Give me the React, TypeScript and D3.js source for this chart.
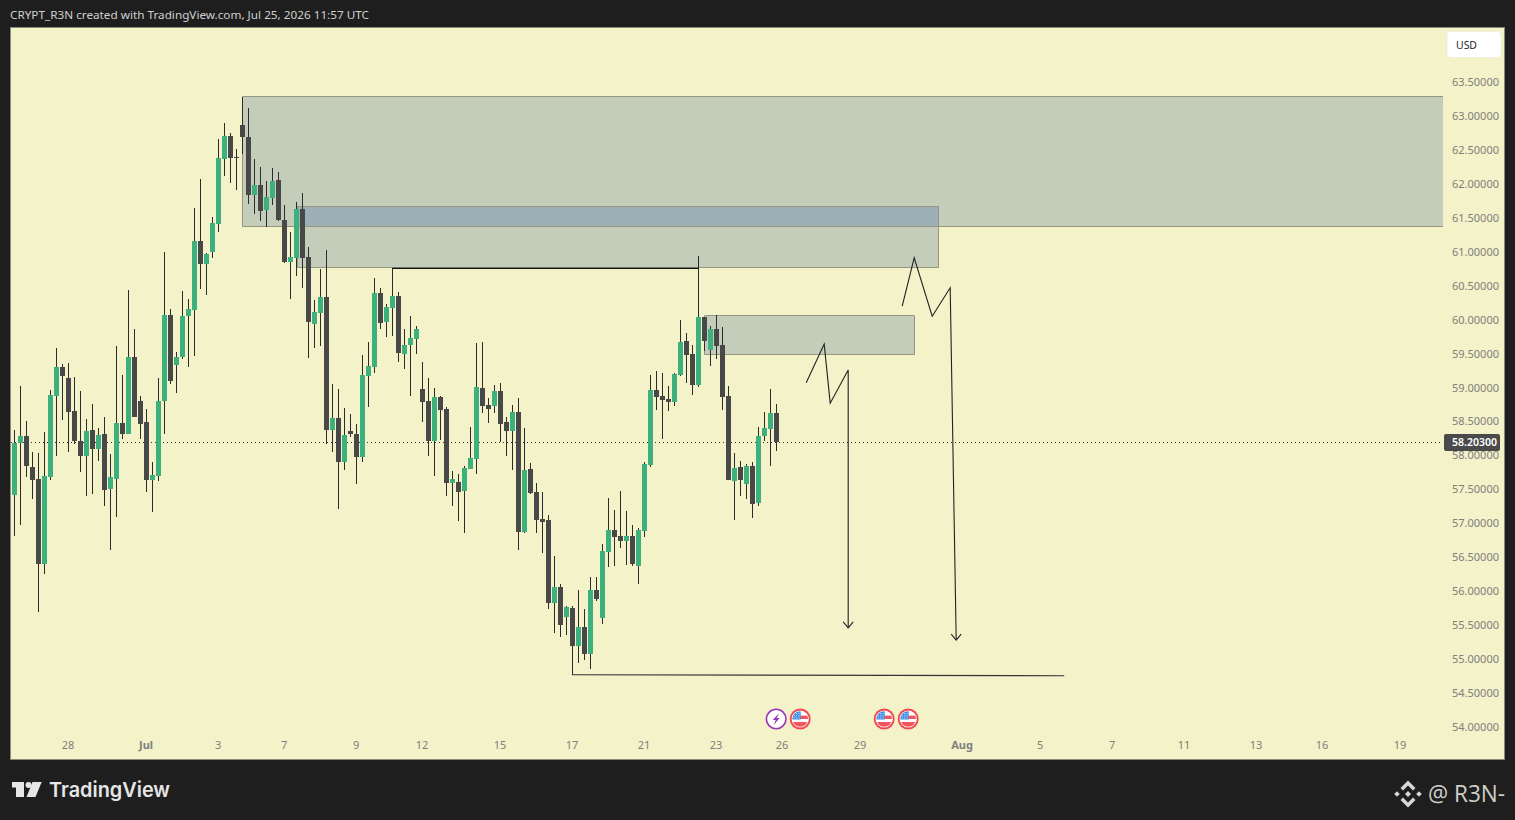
import React, { useEffect } from "react";
import * as d3 from "d3";

const highs = [
  58.38,59.02,58.51,58.05,58.04,58.35,58.97,59.58,59.35,59.36,
  59.16,58.95,58.54,58.76,58.41,58.57,58.02,59.61,59.19,60.44,
  59.86,58.88,58.69,57.90,59.14,61.00,60.16,59.52,60.42,60.31,
  61.65,62.07,60.98,61.51,62.66,62.90,62.75,62.51,63.28,63.12,
  62.37,62.25,62.04,62.23,62.18,61.69,61.29,61.73,61.87,61.07,
  60.29,60.75,61.03,59.05,58.98,58.70,58.61,58.46,59.48,59.67,
  60.61,60.47,60.23,60.76,60.41,59.86,60.05,59.91,59.38,59.14,
  58.99,58.88,58.71,57.77,57.73,57.85,58.42,59.66,59.67,58.85,
  59.04,59.07,58.57,58.74,58.85,58.41,57.89,57.60,57.46,57.12,
  56.52,56.11,55.78,55.78,56.02,55.74,56.21,56.21,56.70,57.37,
  57.20,57.48,57.18,56.98,56.93,57.90,59.19,59.24,59.22,59.02,
  59.22,60.00,59.80,59.63,60.94,60.04,59.91,60.07,59.89,59.02,
  58.04,57.92,57.87,57.90,58.42,58.64,58.98,58.76,
];
const lows = [
  56.81,56.98,57.68,57.36,55.70,56.26,57.64,57.99,58.52,58.05,
  58.17,57.76,57.40,57.43,57.92,57.26,56.61,57.10,58.24,58.32,
  58.57,58.24,57.46,57.17,57.62,58.32,59.05,58.92,59.42,59.30,
  59.47,60.45,60.36,60.91,61.29,62.12,62.01,61.91,62.44,61.70,
  61.56,61.45,61.37,61.69,61.45,60.84,60.30,60.64,60.47,59.44,
  59.58,59.61,58.17,58.05,57.21,57.79,58.27,57.58,57.90,58.71,
  59.22,59.86,59.75,59.76,59.38,59.27,58.88,59.49,58.49,57.99,
  57.70,58.23,57.40,57.26,57.04,56.86,57.80,57.73,58.63,58.48,
  58.63,58.20,57.99,57.79,56.61,56.86,57.43,56.86,56.56,55.74,
  55.39,55.33,55.36,54.77,54.94,54.99,54.86,55.86,55.52,56.36,
  56.37,56.64,56.39,56.37,56.11,56.80,57.83,58.67,58.24,58.66,
  58.73,59.17,59.07,58.89,59.01,59.54,59.32,59.42,58.67,57.64,
  57.05,57.40,57.36,57.08,57.26,58.21,57.85,58.07,
];
const opens = [
  57.42,58.19,58.29,57.83,57.65,56.40,57.68,58.88,59.30,59.14,
  58.66,58.21,57.99,58.38,58.10,58.32,57.51,57.65,58.48,58.32,
  59.45,58.80,58.49,57.64,57.70,58.80,60.07,59.33,59.45,60.05,
  60.14,61.16,60.82,61.00,61.41,62.37,62.71,62.40,62.87,62.69,
  61.84,61.98,61.62,61.79,62.06,61.47,60.85,60.91,61.63,60.92,
  59.94,60.10,60.33,58.38,58.55,57.90,58.36,58.32,57.98,59.17,
  59.30,60.39,59.97,60.17,60.35,59.49,59.63,59.72,58.98,58.80,
  58.21,58.86,58.68,57.60,57.61,57.48,57.80,57.95,59.00,58.74,
  58.73,58.95,58.49,58.36,58.64,56.87,57.80,57.46,57.06,57.05,
  55.83,56.06,55.62,55.75,55.19,55.47,55.08,56.02,55.61,56.58,
  56.90,56.81,56.74,56.81,56.37,56.89,57.86,58.96,58.88,58.83,
  58.79,59.19,59.69,59.49,59.04,60.04,59.55,59.86,59.63,58.88,
  57.62,57.83,57.58,57.85,57.30,58.29,58.39,58.63,
];
const closes = [
  58.19,58.29,57.85,57.64,56.40,57.70,58.89,59.30,59.17,58.64,
  58.21,57.99,58.36,58.10,58.30,57.49,57.68,58.48,58.32,59.45,
  58.57,58.46,57.64,57.71,58.80,60.07,59.10,59.45,60.05,60.16,
  61.16,60.82,60.97,61.42,62.38,62.71,62.38,62.38,62.69,61.84,
  61.98,61.60,61.81,62.04,61.47,60.85,60.92,61.63,60.91,59.97,
  60.11,60.33,58.38,58.55,57.90,58.30,58.32,57.98,59.19,59.32,
  60.39,59.95,60.19,60.35,59.51,59.63,59.73,59.86,58.79,58.21,
  58.86,58.67,57.60,57.65,57.46,57.82,57.96,59.01,58.73,58.68,
  58.95,58.46,58.36,58.64,56.87,57.79,57.45,57.05,57.02,55.83,
  56.06,55.50,55.77,55.19,55.47,55.08,56.02,55.89,56.59,56.90,
  56.80,56.74,56.81,56.40,56.90,57.87,58.96,58.86,58.82,58.79,
  59.20,59.67,59.48,59.04,60.04,59.69,59.86,59.61,58.86,57.64,
  57.82,57.64,57.85,57.29,58.29,58.41,58.63,58.203,
];

const lastPrice = 58.203;
const priceTicks = [63.5,63,62.5,62,61.5,61,60.5,60,59.5,59,58.5,58,57.5,57,56.5,56,55.5,55,54.5,54];
const timeLabels = ["28","Jul","3","7","9","12","15","17","21","23","26","29","Aug","5","7","11","13","16","19"];
const timeIndex = [9,22,34,45,57,68,81,93,105,117,128,141,158,171,183,195,207,218,231];
const eventKinds = ["bolt","flag","flag","flag"];
const eventIndex = [127,131,145,149];

// zones: [start index, end index, top price, bottom price]
const upperZone = [38, 300, 63.285, 61.376];
const midZone = [47.1, 154, 61.67, 60.775];
const lowerZone = [115, 150, 60.065, 59.49];
const resistanceLine = [[63, 60.755], [114, 60.755]];
const supportLine = [[93, 54.77], [175, 54.755]];
const pathA = [[132, 59.07], [135, 59.64], [136, 58.77], [139, 59.26], [139, 55.46]];
const pathB = [[148, 60.2], [150, 60.91], [153, 60.05], [156, 60.47], [157, 55.28]];

const W = 1515, H = 820;
const BG = "#1e1e1e", PAPER = "#f3f2c8", UP = "#3cb07d", DOWN = "#484848", WICK = "#2b2b30";
const ZONE = "#c4ccba", ZONE_EDGE = "#96977f", OVERLAP = "#9dafb7";
const FONT = "'Noto Sans', sans-serif";
const AXIS_RIGHT = 1443;

const x = d3.scaleLinear().domain([0, 127]).range([14.5, 776.5]);
const y = d3.scaleLinear().domain([54, 63]).range([727, 116]);
const lineGen = d3.line<number[]>().x((d) => x(d[0]) - 0.3).y((d) => y(d[1]));
const snap = (v: number) => Math.floor(v) + 0.5;

function Zone({ z }: { z: number[] }) {
  const x0 = snap(x(z[0]));
  const x1 = Math.min(snap(x(z[1])), AXIS_RIGHT);
  const y0 = snap(y(z[2]));
  const y1 = snap(y(z[3]));
  const clipped = x(z[1]) > AXIS_RIGHT;
  return (
    <g>
      <rect x={x0} y={y0} width={x1 - x0} height={y1 - y0} fill={ZONE} />
      <path d={`M${x1},${y0}H${x0}V${y1}H${x1}${clipped ? "" : `V${y0}`}`} fill="none" stroke={ZONE_EDGE} strokeWidth={1} />
    </g>
  );
}

function Arrow({ pts }: { pts: number[][] }) {
  const tip = pts[pts.length - 1];
  const tx = x(tip[0]) - 0.3, ty = y(tip[1]);
  return (
    <g fill="none" stroke="#222" strokeWidth={1.1}>
      <path d={lineGen(pts) as string} />
      <path d={`M${tx - 5},${ty - 6}L${tx},${ty}L${tx + 5},${ty - 6}`} />
    </g>
  );
}

function FlagIcon({ cx, cy }: { cx: number; cy: number }) {
  const id = `f${Math.round(cx)}`;
  return (
    <g>
      <circle cx={cx} cy={cy} r={10.5} fill="#f24a52" />
      <circle cx={cx} cy={cy} r={8.6} fill="#ffffff" />
      <clipPath id={id}><circle cx={cx} cy={cy} r={7.8} /></clipPath>
      <g clipPath={`url(#${id})`}>
        <rect x={cx - 8} y={cy - 8} width={16} height={16} fill="#fff" />
        <rect x={cx - 8} y={cy - 3.4} width={16} height={3.4} fill="#f2555c" />
        <rect x={cx - 8} y={cy + 3} width={16} height={5} fill="#f2555c" />
        <rect x={cx - 8} y={cy - 8} width={8.5} height={8.5} fill="#3d8ee8" />
        {d3.range(3).flatMap((r) => d3.range(3).map((c) => (
          <rect key={`${r}${c}`} x={cx - 6.4 + c * 2.4} y={cy - 6 + r * 2.2} width={1} height={1} fill="#dbe9fb" />
        )))}
      </g>
    </g>
  );
}

function BoltIcon({ cx, cy }: { cx: number; cy: number }) {
  return (
    <g>
      <circle cx={cx} cy={cy} r={9.8} fill="#ffffff" stroke="#9c37b5" strokeWidth={1.6} />
      <path d={`M${cx + 3},${cy - 6}L${cx - 3.5},${cy + 1}L${cx - 0.5},${cy + 1}L${cx - 2.5},${cy + 6}L${cx + 3.5},${cy - 1}L${cx + 0.5},${cy - 1}Z`} fill="#9c37b5" />
    </g>
  );
}

function BinanceMark({ cx, cy }: { cx: number; cy: number }) {
  const dia = (dx: number, dy: number, r: number) =>
    `M${cx + dx},${cy + dy - r}l${r},${r}l${-r},${r}l${-r},${-r}Z`;
  const chev = (s: number) =>
    `M${cx},${cy + s * 13.5}L${cx + 7.5},${cy + s * 6}L${cx + 5},${cy + s * 3.5}L${cx},${cy + s * 8.5}L${cx - 5},${cy + s * 3.5}L${cx - 7.5},${cy + s * 6}Z`;
  return (
    <g fill="#d8d8d2">
      <path d={chev(-1)} />
      <path d={chev(1)} />
      <path d={dia(-11, 0, 2.8)} />
      <path d={dia(11, 0, 2.8)} />
      <path d={dia(0, 0, 3)} />
    </g>
  );
}

export default function App() {
  useEffect(() => {
    document.body.style.margin = "0";
    document.body.style.background = BG;
  }, []);
  const topLabel = "CRYPT_R3N created with TradingView.com, Jul 25, 2026 11:57 UTC";
  const ox0 = snap(x(midZone[0])), ox1 = snap(x(midZone[1])), oy0 = snap(y(midZone[2])), oy1 = snap(y(upperZone[3]));
  const lastY = Math.round(y(lastPrice)) + 0.5;
  return (
    <svg width={W} height={H} viewBox={`0 0 ${W} ${H}`} style={{ display: "block", fontFamily: FONT }}>
      <rect width={W} height={H} fill={BG} />
      <text x={10} y={18.5} fontSize={11.5} fill="#d0d0d0" textLength={359} lengthAdjust="spacingAndGlyphs">{topLabel}</text>

      <rect x={10.5} y={27.5} width={1494} height={732} fill={PAPER} stroke="#8a8a78" strokeWidth={1} />

      <Zone z={upperZone} />
      <Zone z={midZone} />
      <rect x={ox0} y={oy0} width={ox1 - ox0} height={snap(y(upperZone[3])) === oy1 ? snap(y(61.376)) - oy0 : 0} fill={OVERLAP} stroke={ZONE_EDGE} strokeWidth={1} />
      <Zone z={lowerZone} />

      <line x1={11} x2={AXIS_RIGHT} y1={lastY} y2={lastY} stroke="#333" strokeWidth={1} strokeDasharray="1 3" />

      {closes.map((c, i) => {
        const cx = x(i);
        const top = Math.round(y(Math.max(opens[i], c)));
        const bot = Math.round(y(Math.min(opens[i], c)));
        return (
          <g key={i}>
            <line x1={cx} x2={cx} y1={Math.round(y(highs[i]))} y2={Math.round(y(lows[i]))} stroke={WICK} strokeWidth={1} />
            <rect x={cx - 2.5} y={top} width={5} height={Math.max(bot - top, 1)} fill={c >= opens[i] ? UP : DOWN} />
          </g>
        );
      })}

      <path d={lineGen(resistanceLine) as string} fill="none" stroke="#111" strokeWidth={1.4} />
      <path d={lineGen(supportLine) as string} fill="none" stroke="#333" strokeWidth={1.1} />
      <Arrow pts={pathA} />
      <Arrow pts={pathB} />

      {priceTicks.map((p) => (
        <text key={p} x={1452} y={y(p)} dy="0.36em" fontSize={11} fill="#7f7f7f" textLength={47} lengthAdjust="spacingAndGlyphs">{p.toFixed(5)}</text>
      ))}

      <rect x={1444} y={434} width={56} height={17} rx={2} fill="#4a4a4a" />
      <text x={1452} y={y(lastPrice) + 0.8} dy="0.36em" fontSize={11} fontWeight={600} fill="#ffffff" textLength={45} lengthAdjust="spacingAndGlyphs">{lastPrice.toFixed(5)}</text>

      <rect x={1447} y={31.5} width={54} height={26} rx={4} fill="#ffffff" stroke="#e4e4dc" strokeDasharray="1 1" />
      <text x={1456} y={48.5} fontSize={11.5} fill="#1f1f1f" textLength={21} lengthAdjust="spacingAndGlyphs">USD</text>

      {timeLabels.map((t, i) => (
        <text key={i} x={x(timeIndex[i]) - 0.4} y={749} textAnchor="middle" fontSize={11}
          fontWeight={t === "Jul" || t === "Aug" ? 700 : 400} fill="#7f7f7f">{t}</text>
      ))}

      {eventIndex.map((e, i) =>
        eventKinds[i] === "bolt"
          ? <BoltIcon key={i} cx={x(e) - 0.3} cy={719} />
          : <FlagIcon key={i} cx={x(e) - 0.3} cy={719} />
      )}

      <g fill="#e6e6e6">
        <path d="M12,782H24V797H16V787.5H12Z" />
        <circle cx={28.5} cy={785} r={3} />
        <path d="M32.5,782H41.7L35.5,797H26.5Z" />
      </g>
      <text x={49} y={797} fontSize={20.5} fontWeight={600} fill="#e6e6e6" style={{ fontFamily: "Inter, sans-serif" }} textLength={121} lengthAdjust="spacingAndGlyphs">TradingView</text>

      <BinanceMark cx={1408} cy={794} />
      <text x={1428} y={802} fontSize={24} fill="#d0d0c8" style={{ fontFamily: "'Open Sans', sans-serif" }} textLength={77} lengthAdjust="spacingAndGlyphs">@ R3N-</text>
    </svg>
  );
}
